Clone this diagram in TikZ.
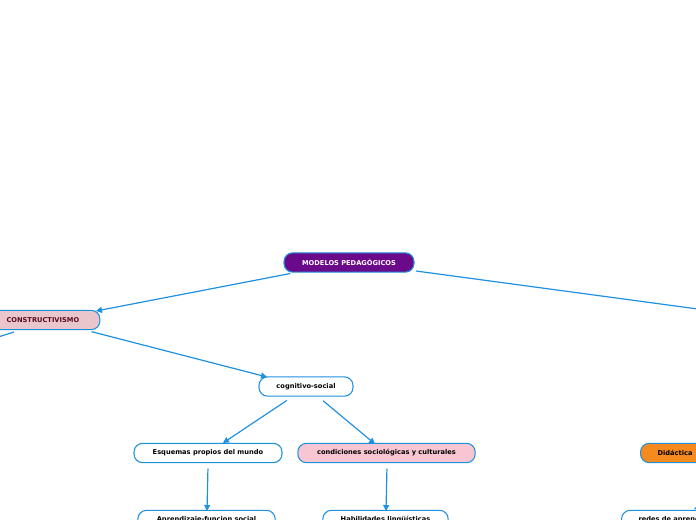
\documentclass[tikz,border=0pt]{standalone}
\usepackage{fontspec}
\setmainfont{DejaVu Sans}
\usetikzlibrary{arrows.meta}
\definecolor{edge}{HTML}{1E90E0}
\definecolor{purp}{HTML}{6A0A8A}
\definecolor{rosa}{HTML}{E8C6CC}
\definecolor{pink}{HTML}{F8C6D2}
\definecolor{orng}{HTML}{F58A1F}
\definecolor{maroon}{HTML}{5A0A1A}
\begin{document}
\begin{tikzpicture}[x=0.75pt,y=-0.75pt,
  box/.style={draw=edge,line width=0.8pt,rounded corners=6.5pt,minimum height=14.5pt,inner sep=0pt,font=\bfseries\fontsize{5}{6}\selectfont,text=black,fill=white},
  cut/.style={anchor=west,align=left,text width=78pt,inner xsep=12.75pt},
  conn/.style={draw=edge,line width=0.9pt,-{Triangle[length=4.5pt,width=4.5pt]},shorten <=2pt}]
\useasboundingbox (0,0) rectangle (696,520);
\clip (0,0) rectangle (696,520);
\node[box,fill=rosa,text=maroon,cut,text width=58pt,inner xsep=12pt] (c) at (-10,320) {CONSTRUCTIVISMO};
\node[box,fill=purp,text=white,minimum width=97.5pt] (m) at (349,262.5) {MODELOS PEDAGÓGICOS};
\node[box,minimum width=70.5pt] (cs) at (306,386.5) {cognitivo-social};
\node[box,minimum width=111pt] (e) at (208,453) {Esquemas propios del mundo};
\node[box,fill=pink,minimum width=133pt] (cd) at (386.5,453) {condiciones sociológicas y culturales};
\node[box,minimum width=103pt] (a) at (206.5,520) {Aprendizaje-funcion social};
\node[box,minimum width=94pt] (h) at (385.5,520) {Habilidades lingüísticas};
\node[box,fill=orng,cut] (d) at (640,453) {Didáctica};
\node[box,cut] (r) at (621,520) {redes de aprendizaje};
\coordinate (rr) at (720,312);
\coordinate (cl) at (-5,338);
\coordinate (rt) at (720,500);
\draw[conn] (293,273) -- (96,311);
\draw[draw=edge,line width=0.9pt] (416,271) -- (rr);
\draw[draw=edge,line width=0.9pt] (14,332) -- (cl);
\draw[conn] (89,331) -- (267,377);
\draw[conn] (289,399) -- (223,443);
\draw[conn] (321,399) -- (375,444);
\draw[conn] (208,466) -- (207,511);
\draw[conn] (387,466) -- (386,511);
\draw[conn] (rt) -- (694,509);
\end{tikzpicture}
\end{document}
